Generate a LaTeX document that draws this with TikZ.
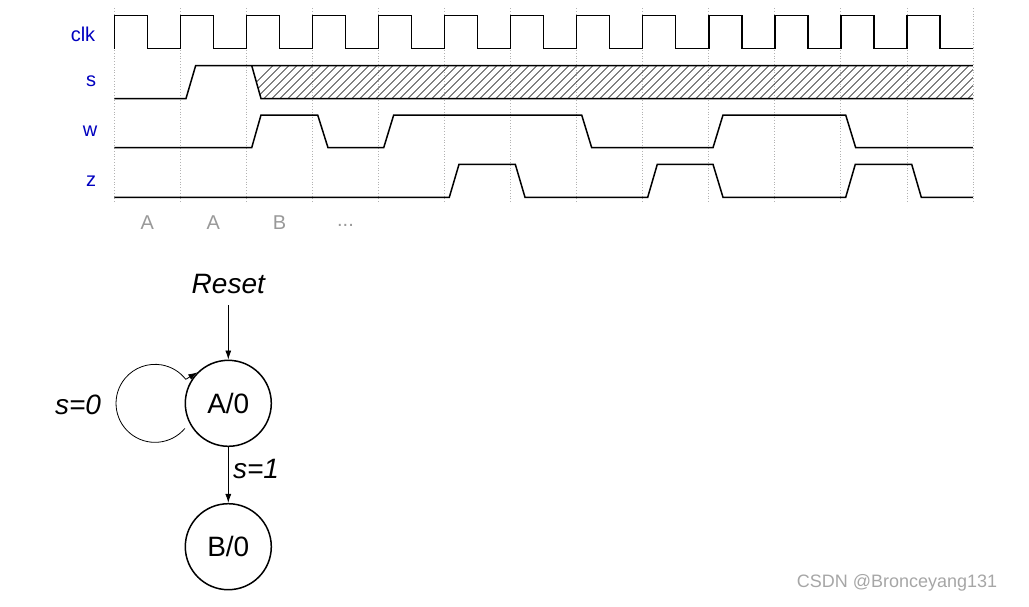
\documentclass[tikz,border=0pt]{standalone}
\usepackage{fontspec}
\setmainfont{Liberation Sans}
\usetikzlibrary{arrows.meta}
\begin{document}
\begin{tikzpicture}[x=1pt,y=-1pt,
  sig/.style={line width=1.5pt,line join=miter},
  lbl/.style={text=blue!75!black,font=\fontsize{20}{20}\selectfont},
  st/.style={gray!80,font=\fontsize{20}{20}\selectfont},
  state/.style={circle,draw,line width=1.5pt,minimum size=86pt,inner sep=0pt,font=\fontsize{28}{28}\selectfont},
  it/.style={font=\fontsize{28}{28}\selectfont\itshape},
  arr/.style={-{Latex[length=9pt,width=6pt]},line width=0.8pt}]
\useasboundingbox (0,0) rectangle (1029,606);
\def\P{66.05}
% dotted grid
\foreach \k in {0,...,13} \draw[gray!60,dotted,line width=0.8pt] (114.3+\k*\P,8) -- (114.3+\k*\P,202);
% labels
\node[lbl] (lclk) at (83,34) {clk};
\node[lbl] (ls) at (91,81) {s};
\node[lbl] (lw) at (90,131) {w};
\node[lbl] (lz) at (91,181) {z};
% clock
\draw[sig] (114.3,48.7) \foreach \k in {0,...,12} {-- (114.3+\k*\P,15.7) -- (147.3+\k*\P,15.7) -- (147.3+\k*\P,48.7) -- (180.35+\k*\P,48.7)} -- (972.9,48.7);
% s
\begin{scope}
\clip (251.7,65.5) -- (972.9,65.5) -- (972.9,98.5) -- (261,98.5) -- cycle;
\foreach \i in {0,...,95} \draw[line width=0.6pt] (240+\i*8,98.5) -- (273+\i*8,65.5);
\end{scope}
\draw[sig] (114.3,98.5) -- (186,98.5) -- (195.7,65.5) -- (972.9,65.5);
\draw[sig] (251.7,65.5) -- (261,98.5) -- (972.9,98.5);
% w
\draw[sig] (114.3,147.7) -- (251.7,147.7) -- (261,115) -- (317.7,115) -- (328,147.7) -- (383.7,147.7) -- (393.7,115) -- (581.7,115) -- (591.7,147.7) -- (713,147.7) -- (723,115) -- (845.7,115) -- (855.7,147.7) -- (972.9,147.7);
% z
\draw[sig] (114.3,197.3) -- (449.3,197.3) -- (459,164.3) -- (515.3,164.3) -- (525,197.3) -- (647.7,197.3) -- (657.3,164.3) -- (713,164.3) -- (723,197.3) -- (845.7,197.3) -- (855.3,164.3) -- (911.7,164.3) -- (921.3,197.3) -- (972.9,197.3);
% state letters
\node[st] (t1) at (147.3,223) {A};
\node[st] (t2) at (213.4,223) {A};
\node[st] (t3) at (279.5,223) {B};
\node[st] (t4) at (345.5,225) {...};
% FSM
\node[it] (reset) at (228.3,284) {Reset};
\node[state] (A) at (228.3,403.3) {A/0};
\node[state] (B) at (228.3,546.7) {B/0};
\coordinate (r0) at (228.3,305);
\draw[arr] (r0) -- (A.north);
\draw[arr] (A.south) -- node[it,right,pos=0.4,xshift=1pt] (s1) {s=1} (B.north);
\draw[line width=0.8pt] (184.9,428.4) arc[start angle=40,end angle=322,radius=39] coordinate (le);
\draw[arr] (le) -- (A.135);
\node[it] (s0) at (78,405) {s=0};
\node[gray!70,font=\fontsize{18}{18}\selectfont] (wm) at (897,583) {CSDN @Bronceyang131};
\end{tikzpicture}
\end{document}
